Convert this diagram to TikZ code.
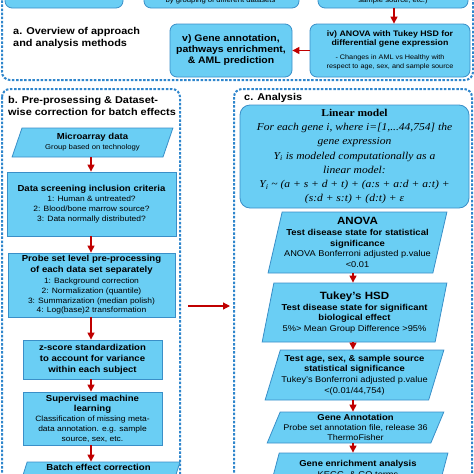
\documentclass[tikz,border=0pt]{standalone}
\usepackage{fontspec}
\setmainfont{Liberation Sans}[FakeStretch=1.1]
\newfontfamily\tnr{Liberation Serif}[FakeStretch=1.1]
\usetikzlibrary{shapes.geometric,arrows.meta}

\definecolor{boxfill}{HTML}{6ACEF4}
\definecolor{boxline}{HTML}{3A8FC8}
\definecolor{framec}{HTML}{2F86CC}
\definecolor{arrowc}{HTML}{C00000}

\newcommand\fH{\fontsize{9.9}{12}\selectfont\bfseries}
\newcommand\fV{\fontsize{9.5}{11}\selectfont\bfseries}
\newcommand\fIVb{\fontsize{8}{10}\selectfont\bfseries}
\newcommand\fIVs{\fontsize{6.6}{9}\selectfont}
\newcommand\fB{\fontsize{8.7}{11}\selectfont\bfseries}
\newcommand\fR{\fontsize{7.7}{9.8}\selectfont}
\newcommand\fS{\fontsize{7}{10}\selectfont}
\newcommand\fT{\fontsize{10.5}{12}\selectfont\bfseries}
\newcommand\fC{\fontsize{8.6}{10.6}\selectfont\bfseries}
\newcommand\fCr{\fontsize{8.4}{10.6}\selectfont}
\newcommand\fTop{\fontsize{7}{9}\selectfont}

\tikzset{
 frame/.style={draw=framec, line width=2pt, dash pattern=on 2.5pt off 1.6pt, rounded corners=8pt},
 rbox/.style={draw=boxline, fill=boxfill, line width=0.8pt, rounded corners=7pt, align=center, inner sep=1pt},
 sbox/.style={draw=boxline, fill=boxfill, line width=0.8pt, align=center, inner sep=1pt},
 pbox/.style 2 args={trapezium, trapezium left angle=#1, trapezium right angle=#2, trapezium stretches=true, draw=boxline, fill=boxfill, line width=0.8pt, align=center, inner sep=1pt},
 flow/.style={draw=arrowc, line width=1.2pt, -{Triangle[width=7pt,length=7pt]}},
}

\begin{document}
\begin{tikzpicture}[x=1pt,y=-1pt]
\useasboundingbox (0,0) rectangle (474,474);
\clip (0,0) rectangle (474,474);

% ---------- section a ----------
\draw[frame] (2,-20) rectangle (473,80);
\node[rbox, minimum width=118pt, minimum height=40pt] (tl) at (64,-12) {};
\node[rbox, minimum width=155pt, minimum height=40pt] (tm) at (221.5,-12) {};
\node[rbox, minimum width=150pt, minimum height=40pt] (tr) at (393,-12) {};
\node[font=\fTop, anchor=base, inner sep=0] (tmt) at (220.5,2) {by grouping of different datasets};
\node[font=\fTop, anchor=base, inner sep=0] (trt) at (393,2) {sample source, etc.)};

\node[anchor=north west, align=left, font=\fH, inner sep=0] (ta) at (13,27) {a. Overview of approach\\and analysis methods};

\node[rbox, minimum width=122pt, minimum height=53pt, font=\fV] (v) at (231,50.5)
 {v) Gene annotation,\\pathways enrichment,\\\& AML prediction};
\node[rbox, minimum width=160pt, minimum height=53pt, font=\fIVs] (iv) at (390,50.5)
 {{\fIVb iv) ANOVA with Tukey HSD for}\\{\fIVb differential gene expression}\\[5pt]
  - Changes in AML vs Healthy with\\respect to age, sex, and sample source};

\coordinate (ax1) at (394,0);
\draw[flow] (tr.south -| ax1) -- (iv.north -| ax1);
\draw[flow] (iv.west) -- (v.east);

% ---------- section b ----------
\draw[frame] (2,89) rectangle (180,520);
\node[anchor=north west, align=left, font=\fH, inner sep=0] (tb) at (8,96) {b. Pre-prosessing \& Dataset-\\wise correction for batch effects};

\node[pbox={71}{109}, minimum width=161pt, minimum height=29pt, font=\fS] (micro) at (92.5,142.5)
 {{\fB Microarray data}\\Group based on technology};
\node[sbox, minimum width=169pt, minimum height=64pt, font=\fR] (screen) at (91.5,204)
 {{\fB Data screening inclusion criteria}\\[1pt]1: Human \& untreated?\\2: Blood/bone marrow source?\\3: Data normally distributed?};
\node[sbox, minimum width=167pt, minimum height=64pt, font=\fR] (probe) at (91.5,285)
 {{\fB Probe set level pre-processing}\\[1pt]{\fB of each data set separately}\\[1pt]1: Background correction\\2: Normalization (quantile)\\3: Summarization (median polish)\\4: Log(base)2 transformation};
\node[sbox, minimum width=139pt, minimum height=39pt, font=\fB] (z) at (92.5,359.5)
 {z-score standardization\\to account for variance\\within each subject};
\node[sbox, minimum width=139pt, minimum height=53pt, font=\fR] (sup) at (92.5,418.5)
 {{\fB Supervised machine}\\[1pt]{\fB learning}\\Classification of missing meta-\\data annotation. e.g. sample\\source, sex, etc.};
\node[pbox={76}{104}, minimum width=163pt, minimum height=32pt, font=\fB] (batch) at (98.5,478)
 {Batch effect correction\\\mbox{}\\\mbox{}};

\coordinate (ax2) at (91,0);
\draw[flow] (ax2 |- micro.south) -- (ax2 |- screen.north);
\draw[flow] (ax2 |- screen.south) -- (ax2 |- probe.north);
\draw[flow] (ax2 |- probe.south) -- (ax2 |- z.north);
\draw[flow] (ax2 |- z.south) -- (ax2 |- sup.north);
\draw[flow] (ax2 |- sup.south) -- (ax2 |- batch.north);

\coordinate (bc1) at (188,306);
\coordinate (bc2) at (230,306);
\draw[flow] (bc1) -- (bc2);

% ---------- section c ----------
\draw[frame] (234,89) rectangle (472,520);
\node[anchor=base west, font=\fH, inner sep=0] (tc) at (244,100) {c. Analysis};

\node[rbox, rounded corners=10pt, minimum width=229pt, minimum height=103pt, font=\tnr\fontsize{10.5}{14.3}\selectfont\itshape] (lin) at (354.5,156.5)
 {{\bfseries\upshape Linear model}\\For each gene i, where i=[1,...44,754] the\\gene expression\\Y\textsubscript{i} is modeled computationally as a\\linear model:\\Y\textsubscript{i} \textasciitilde{} (a + s + d + t) + (a:s + a:d + a:t) +\\(s:d + s:t) + (d:t) + ε};

\node[pbox={75}{105}, minimum width=179pt, minimum height=61pt, font=\fCr] (anova) at (357.5,242.5)
 {{\fT ANOVA}\\{\fC Test disease state for statistical}\\{\fC significance}\\ANOVA Bonferroni adjusted p.value\\<0.01};
\node[pbox={76}{104}, minimum width=185pt, minimum height=59pt, font=\fCr] (tukey) at (354.5,312.5)
 {{\fT Tukey's HSD}\\{\fC Test disease state for significant}\\{\fC biological effect}\\5\%> Mean Group Difference >95\%};
\node[pbox={70}{110}, minimum width=179pt, minimum height=50pt, font=\fCr] (age) at (354.5,375)
 {{\fC Test age, sex, \& sample source}\\{\fC statistical significance}\\Tukey's Bonferroni adjusted p.value\\<(0.01/44,754)};
\node[pbox={66}{114}, minimum width=177pt, minimum height=31pt, font=\fontsize{8.2}{10}\selectfont] (annot) at (355.5,427.5)
 {{\fC Gene Annotation}\\Probe set annotation file, release 36\\ThermoFisher};
\node[pbox={74}{106}, minimum width=180pt, minimum height=42pt, font=\fCr] (enrich) at (358,474)
 {{\fC Gene enrichment analysis}\\KEGG, \& GO terms\\\mbox{}};

\coordinate (ax3) at (353,0);
\draw[flow] (ax3 |- anova.south) -- (ax3 |- tukey.north);
\draw[flow] (ax3 |- tukey.south) -- (ax3 |- age.north);
\draw[flow] (ax3 |- age.south) -- (ax3 |- annot.north);
\draw[flow] (ax3 |- annot.south) -- (ax3 |- enrich.north);
\end{tikzpicture}
\end{document}
